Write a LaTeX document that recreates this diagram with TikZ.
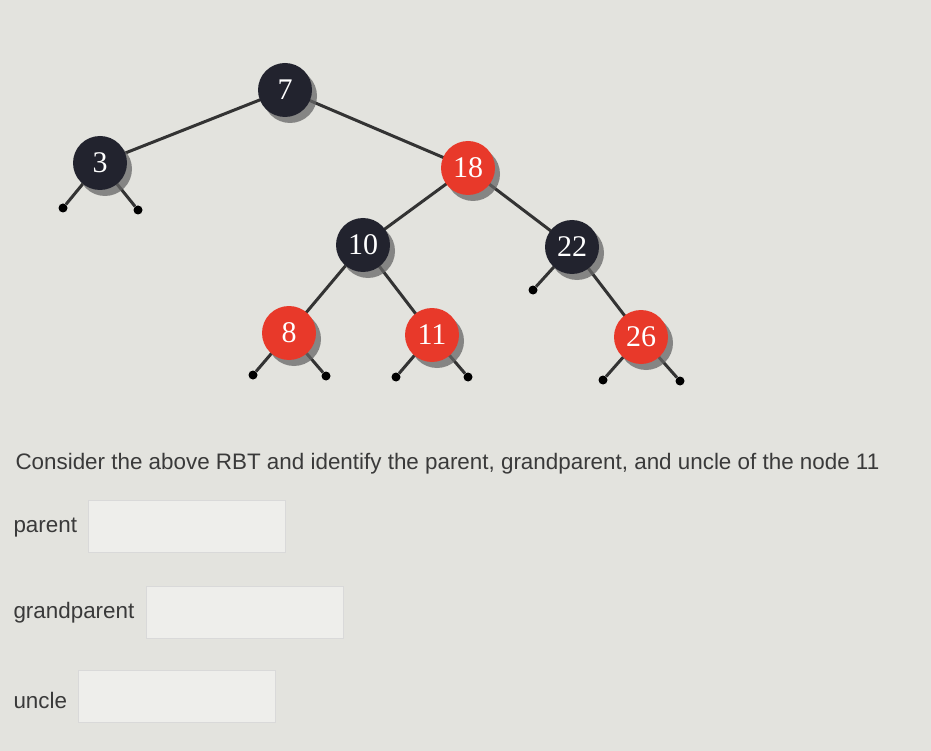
\documentclass[tikz,border=0pt]{standalone}
\usepackage{fontspec}
\setmainfont{Liberation Sans}
\newfontfamily\numfont{Liberation Serif}
\definecolor{bg}{HTML}{E3E3DE}
\definecolor{blk}{HTML}{22232E}
\definecolor{rd}{HTML}{E8392A}
\definecolor{txt}{HTML}{3A3A3A}
\begin{document}
\begin{tikzpicture}[x=1pt,y=-1pt,
  rb/.style={circle,minimum size=54pt,inner sep=0pt,text=white,font=\numfont\fontsize{30}{30}\selectfont,
    preaction={fill=black!60,opacity=0.75,transform canvas={shift={(5pt,-6pt)}}}},
  bn/.style={rb,fill=blk},
  rn/.style={rb,fill=rd},
  edge/.style={draw=black!80,line width=3pt},
  leaf/.style={circle,fill=black,inner sep=0pt,minimum size=9pt},
  lab/.style={anchor=west,font=\fontsize{22.4}{22.4}\selectfont,text=txt},
  box/.style={draw=black!15,fill=bg!60!white,line width=0.8pt,anchor=north west,minimum width=197pt,minimum height=52pt,inner sep=0pt}]
\fill[bg] (0,0) rectangle (931,751);
\useasboundingbox (0,0) rectangle (931,751);
\coordinate (c7) at (285,90); \coordinate (c3) at (100,163); \coordinate (c18) at (468,168);
\coordinate (c10) at (363,245); \coordinate (c22) at (572,247);
\coordinate (c8) at (289,333); \coordinate (c11) at (432,335); \coordinate (c26) at (641,337);
\node[leaf] (l1) at (63,208) {}; \node[leaf] (l2) at (138,210) {};
\node[leaf] (l3) at (533,290) {};
\node[leaf] (l4) at (253,375) {}; \node[leaf] (l5) at (326,376) {};
\node[leaf] (l6) at (396,377) {}; \node[leaf] (l7) at (468,377) {};
\node[leaf] (l8) at (603,380) {}; \node[leaf] (l9) at (680,381) {};
\draw[edge] (c7)--(c3) (c7)--(c18) (c18)--(c10) (c18)--(c22) (c10)--(c8) (c10)--(c11) (c22)--(c26)
  (c3)--(l1) (c3)--(l2) (c22)--(l3) (c8)--(l4) (c8)--(l5) (c11)--(l6) (c11)--(l7) (c26)--(l8) (c26)--(l9);
\node[bn] (n7) at (c7) {7};
\node[bn] (n3) at (c3) {3};
\node[rn] (n18) at (c18) {18};
\node[bn] (n10) at (c10) {10};
\node[bn] (n22) at (c22) {22};
\node[rn] (n8) at (c8) {8};
\node[rn] (n11) at (c11) {11};
\node[rn] (n26) at (c26) {26};
\node[lab] (q) at (12,464) {Consider the above RBT and identify the parent, grandparent, and uncle of the node 11};
\node[lab] (p) at (10,528) {parent};
\node[box] (pb) at (88,500) {};
\node[lab] (g) at (10,613) {grandparent};
\node[box] (gb) at (146,586) {};
\node[lab] (u) at (10,700) {uncle};
\node[box] (ub) at (78,670) {};
\end{tikzpicture}
\end{document}
